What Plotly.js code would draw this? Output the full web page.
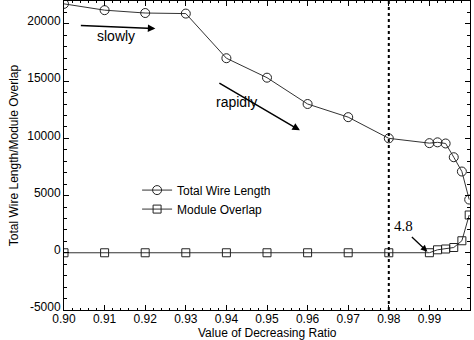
<!DOCTYPE html>
<html><head><meta charset="utf-8">
<script src="https://cdn.plot.ly/plotly-3.0.1.min.js"></script>
<style>html,body{margin:0;padding:0;background:#fff}#c{width:474px;height:340px}</style>
</head><body><div id="c"></div>
<script>
const ratio = [0.90,0.91,0.92,0.93,0.94,0.95,0.96,0.97,0.98,0.99,0.992,0.994,0.996,0.998,0.9998];
const wireLength = [21750,21200,20950,20900,17000,15300,13000,11850,10000,9580,9650,9550,8350,7100,4650];
const moduleOverlap = [0,0,0,0,0,0,0,0,0,4.8,260,330,460,1050,3300];
const xTicks = [0.90,0.91,0.92,0.93,0.94,0.95,0.96,0.97,0.98,0.99];
const xTickText = xTicks.map(v=>v.toFixed(2));
const yTicks = [-5000,0,5000,10000,15000,20000];
const yTickText = yTicks.map(v=>String(v));
const font = "Liberation Sans, Arial, sans-serif";

const traces = [
 {x: ratio, y: wireLength, name: 'Total Wire Length', mode: 'lines+markers',
  line: {color: '#333', width: 1},
  marker: {symbol: 'circle-open', size: 9, color: '#222', line: {width: 1}}},
 {x: ratio, y: moduleOverlap, name: 'Module Overlap', mode: 'lines+markers',
  line: {color: '#333', width: 1},
  marker: {symbol: 'square-open', size: 8, color: '#222', line: {width: 1}}}
];

const axisCommon = {showgrid: false, zeroline: false, showline: true, linecolor: '#000', linewidth: 1,
  mirror: 'ticks', ticks: 'inside', ticklen: 5, tickcolor: '#000',
  tickfont: {family: font, size: 12, color: '#000'}};

const layout = {
  width: 474, height: 340,
  margin: {l: 64, r: 4, t: 1, b: 30},
  paper_bgcolor: '#fff', plot_bgcolor: '#fff',
  showlegend: true,
  legend: {x: 0.18, y: 0.435, xanchor: 'left', yanchor: 'top', bgcolor: 'rgba(0,0,0,0)',
    font: {family: font, size: 12, color: '#000'}, tracegroupgap: 0, itemwidth: 30},
  xaxis: Object.assign({}, axisCommon, {range: [0.90, 1.0], tickvals: xTicks, ticktext: xTickText,
    automargin: false, ticklabelstandoff: -2,
    minor: {ticks: 'inside', ticklen: 2, dtick: 0.002, tickcolor: '#000'}}),
  yaxis: Object.assign({}, axisCommon, {range: [-5000, 22000], tickvals: yTicks, ticktext: yTickText,
    title: {text: 'Total Wire Length/Module Overlap', font: {family: font, size: 12, color: '#000'}, standoff: 6},
    automargin: false, ticklabelshift: -3,
    minor: {ticks: 'inside', ticklen: 3, dtick: 1000, tickcolor: '#000'}}),
  shapes: [
    {type: 'line', xref: 'x', yref: 'paper', x0: 0.98, x1: 0.98, y0: 0, y1: 1,
     line: {color: '#000', width: 2, dash: 'dot'}}
  ],
  annotations: [
    {xref: 'paper', yref: 'paper', x: 0.5, y: -0.074, yanchor: 'middle', text: 'Value of Decreasing Ratio',
     showarrow: false, font: {family: font, size: 12, color: '#000'}},
    {x: 0.9225, y: 19600, ax: -76, ay: -3, text: '', showarrow: true, arrowhead: 2, arrowsize: 1, arrowwidth: 1.5, arrowcolor: '#000'},
    {x: 0.9128, y: 18900, text: 'slowly', showarrow: false, font: {family: font, size: 14, color: '#000'}},
    {x: 0.9581, y: 10700, ax: -82, ay: -48, text: '', showarrow: true, arrowhead: 2, arrowsize: 1, arrowwidth: 1.5, arrowcolor: '#000'},
    {x: 0.9426, y: 13200, text: 'rapidly', showarrow: false, font: {family: font, size: 14, color: '#000'}},
    {x: 0.9895, y: 100, ax: -17, ay: -16, text: '', showarrow: true, arrowhead: 2, arrowsize: 1, arrowwidth: 1.3, arrowcolor: '#000'},
    {x: 0.9837, y: 2300, text: '4.8', showarrow: false, font: {family: 'Liberation Serif, Times New Roman, serif', size: 15, color: '#000'}}
  ]
};
Plotly.newPlot('c', traces, layout, {staticPlot: true, displayModeBar: false});
</script></body></html>
